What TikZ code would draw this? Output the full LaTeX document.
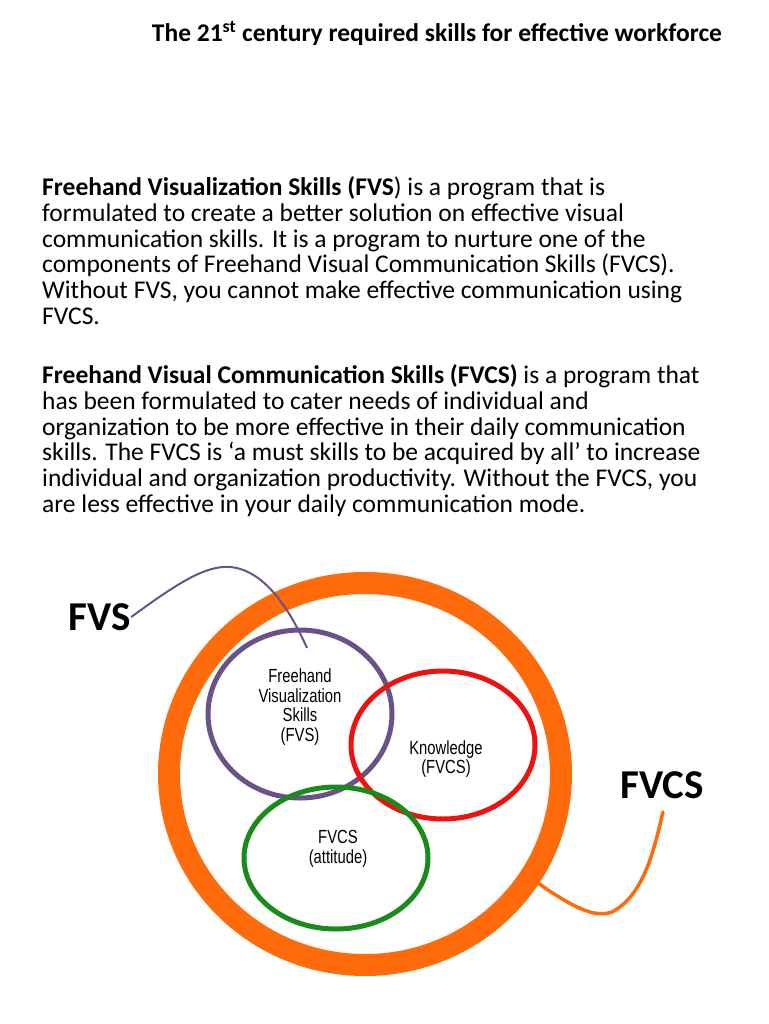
\documentclass[tikz,border=0pt]{standalone}
\usepackage{fontspec}
\setmainfont{Carlito}
\newfontfamily\arialf[FakeStretch=0.78]{Liberation Sans}
\definecolor{orng}{HTML}{FF6A0A}
\definecolor{purp}{HTML}{6A5288}
\definecolor{redc}{HTML}{F01010}
\definecolor{grnc}{HTML}{1A8A1A}
\begin{document}
\begin{tikzpicture}[x=1pt,y=-1pt,
  bodyline/.style={anchor=base west,inner sep=0,font=\fontsize{25.5}{30}\selectfont},
  vlabel/.style={align=center,font=\arialf\fontsize{19}{19.5}\selectfont,inner sep=0},
  big/.style={font=\bfseries\fontsize{41}{46}\selectfont,inner sep=0}]
\useasboundingbox (0,0) rectangle (768,1024);
\node[font=\bfseries\fontsize{25.5}{30}\selectfont] (title) at (437,33) {The 21\textsuperscript{st} century required skills for effective workforce};
\foreach \t [count=\i] in {{\textbf{Freehand Visualization Skills (FVS}) is a program that is},
 {formulated to create a better solution on effective visual},
 {communication skills. It is a program to nurture one of the},
 {components of Freehand Visual Communication Skills (FVCS).},
 {Without FVS, you cannot make effective communication using},
 {FVCS.}}
 \node[bodyline] (p1l\i) at (42,{170+\i*25.7}) {\t};
\foreach \t [count=\i] in {{\textbf{Freehand Visual Communication Skills (FVCS)} is a program that},
 {has been formulated to cater needs of individual and},
 {organization to be more effective in their daily communication},
 {skills. The FVCS is `a must skills to be acquired by all' to increase},
 {individual and organization productivity. Without the FVCS, you},
 {are less effective in your daily communication mode.}}
 \node[bodyline] (p2l\i) at (42,{358+\i*25.7}) {\t};
% circles
\draw[orng,line width=22] (365,774) ellipse [x radius=196,y radius=191];
\draw[purp,line width=5] (300,714) ellipse [x radius=92,y radius=84];
\draw[redc,line width=5] (443,745) ellipse [x radius=92,y radius=74];
\draw[grnc,line width=5] (336,858) ellipse [x radius=92,y radius=71];
\node[vlabel] (fvsin) at (300,707) {Freehand\\Visualization\\Skills\\(FVS)};
\node[vlabel] (know) at (446,759) {Knowledge\\(FVCS)};
\node[vlabel] (att) at (338,849) {FVCS\\(attitude)};
\node[big] (fvs) at (100,617) {FVS};
\node[big] (fvcs) at (662,785) {FVCS};
\coordinate (pend) at (307,648);
\coordinate (oend) at (530,877);
\draw[purp,line width=2] (fvs.east) .. controls (175,585) and (205,565) .. (230,567) .. controls (265,570) and (290,610) .. (pend);
\draw[orng,line width=3.5,line cap=round] (oend) -- (545,888) .. controls (575,908) and (595,918) .. (612,912) .. controls (645,895) and (655,845) .. (663,812);
\end{tikzpicture}
\end{document}
